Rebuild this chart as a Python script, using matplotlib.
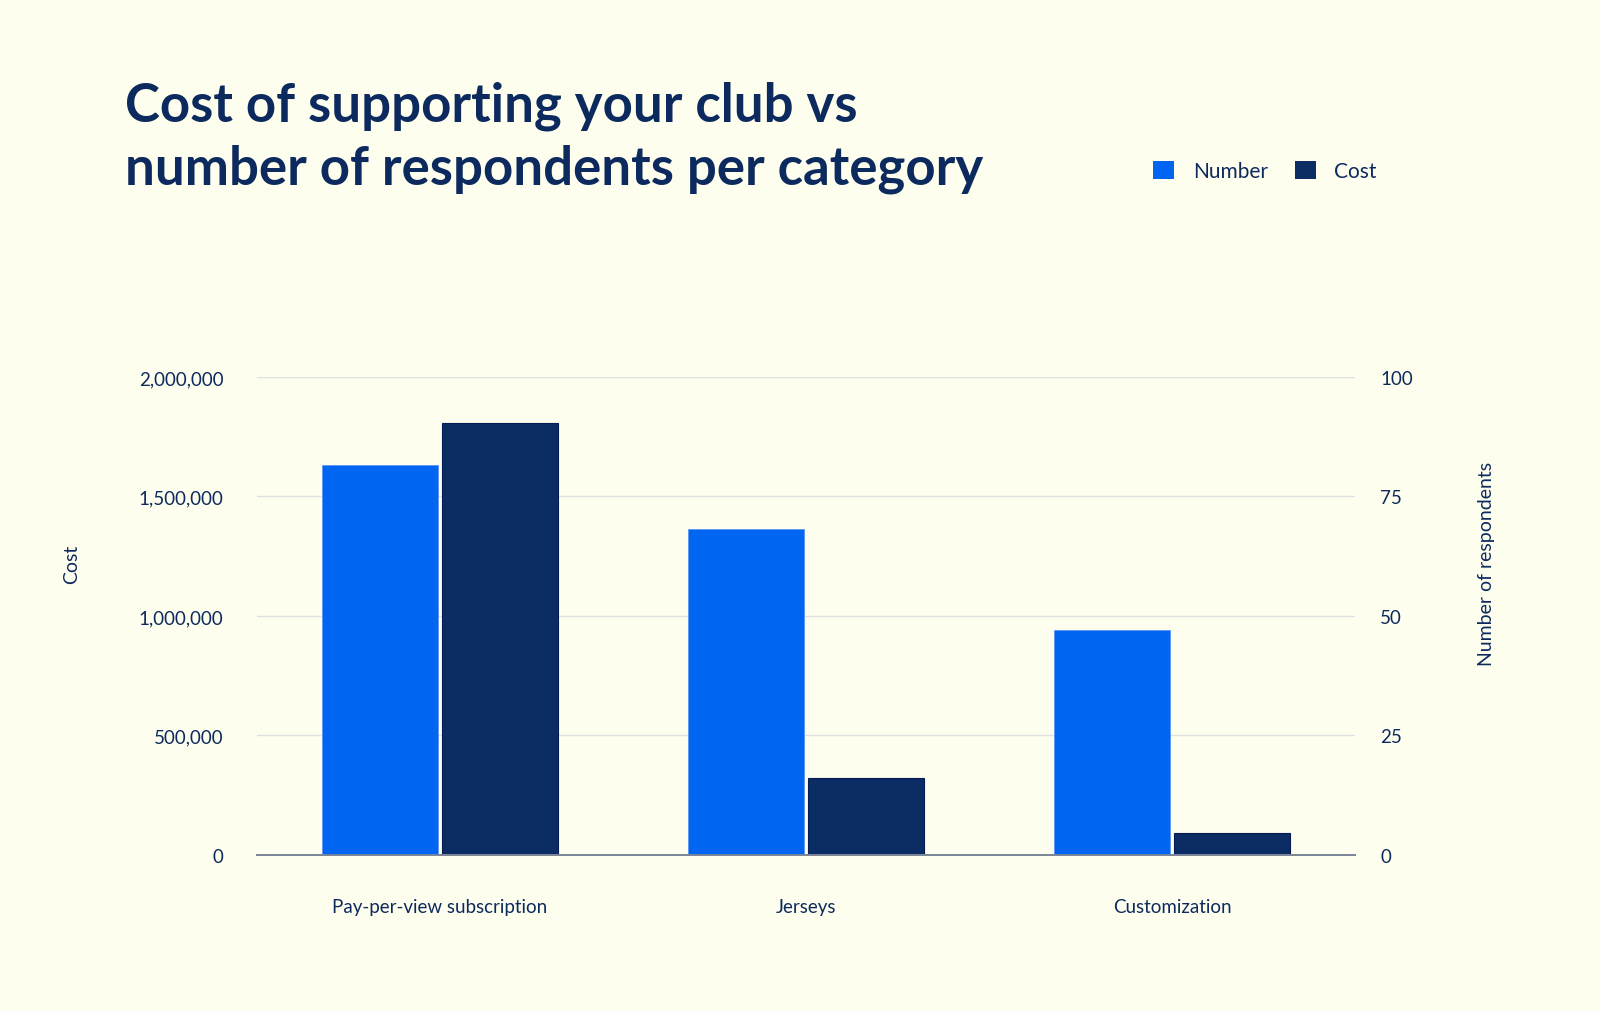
import numpy as np
from matplotlib import pyplot as plt
from matplotlib.patches import Patch

categories = ['Pay-per-view subscription', 'Jerseys', 'Customization']
number_values = [81.6, 68.2, 47.1]
cost_values = [1808000, 320000, 92000]
cost_ticks = [0, 500000, 1000000, 1500000, 2000000]
number_ticks = [0, 25, 50, 75, 100]

bg = '#FEFEEE'
text_color = '#0D2A5E'
number_color = '#0066F2'
cost_color = '#0B2D63'

plt.rcParams['font.family'] = ['Lato', 'DejaVu Sans']

fig = plt.figure(figsize=(16, 10.12), dpi=100, facecolor=bg)
ax = fig.add_axes([0.1606, 0.1542, 0.6863, 0.4723])
ax.set_facecolor(bg)
ax2 = ax.twinx()

x = np.arange(len(categories))
w = 0.317
ax2.bar(x - 0.163, number_values, w, color=number_color, edgecolor='#5A95F5', linewidth=0.6)
ax.bar(x + 0.163, cost_values, w, color=cost_color, edgecolor='#061A55', linewidth=0.8)

ax.set_xlim(-0.5, 2.5)
ax.set_ylim(0, 2000000)
ax2.set_ylim(0, 100)
ax.set_yticks(cost_ticks)
ax.set_yticklabels([f'{v:,}' for v in cost_ticks])
ax2.set_yticks(number_ticks)
ax2.set_yticklabels([str(v) for v in number_ticks])
ax.set_xticks(x)
ax.set_xticklabels(categories)

ax.grid(axis='y', color='#DFE2E2', linewidth=1)
ax.set_axisbelow(True)

for a in (ax, ax2):
    for s in ('top', 'left', 'right'):
        a.spines[s].set_visible(False)
    a.spines['bottom'].set_color('#7D8699')
    a.spines['bottom'].set_linewidth(1.3)

ax.tick_params(axis='y', length=0, pad=24, labelsize=13.5, labelcolor=text_color)
ax2.tick_params(axis='y', length=0, pad=18, labelsize=13.5, labelcolor=text_color)
ax.tick_params(axis='x', length=0, pad=31, labelsize=13.5, labelcolor=text_color)

ax.set_ylabel('Cost', fontsize=14, color=text_color)
ax.yaxis.set_label_coords(-0.161, 0.61)
ax2.set_ylabel('Number of respondents', fontsize=14, color=text_color)
ax2.yaxis.set_label_coords(1.112, 0.61)

fig.text(0.078, 0.808, 'Cost of supporting your club vs\nnumber of respondents per category',
         fontsize=38, fontweight='bold', color=text_color, ha='left', va='bottom',
         linespacing=1.34)

handles = [Patch(facecolor=number_color, label='Number'),
           Patch(facecolor=cost_color, label='Cost')]
fig.legend(handles=handles, loc='center left', bbox_to_anchor=(0.709, 0.830),
           ncol=2, frameon=False, fontsize=15, labelcolor=text_color,
           handlelength=1.0, handleheight=1.0, handletextpad=0.9, columnspacing=1.3)

fig.savefig('out.png', dpi=100, facecolor=bg)
